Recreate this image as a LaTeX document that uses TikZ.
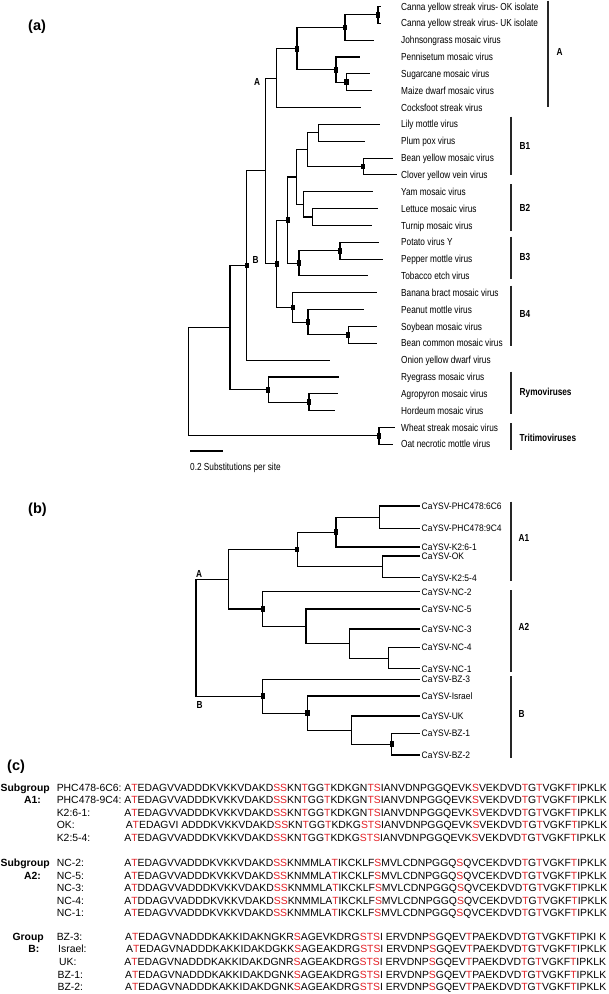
\documentclass[tikz,border=0pt]{standalone}
\usepackage{fontspec}
\setmainfont{Liberation Sans}
\newfontfamily\narrowfont{Liberation Sans}[FakeStretch=0.81]
\newfontfamily\midfont{Liberation Sans}[FakeStretch=0.9]
\definecolor{seqred}{RGB}{226,32,38}
\newcommand\rd[1]{\textcolor{seqred}{#1}}
\newcommand\seqAone{A\rd{T}EDAGVVADDDKVKKVDAKD\rd{SS}KN\rd{T}GG\rd{T}KDKGN\rd{TS}IANVDNPGGQEVK\rd{S}VEKDVD\rd{T}G\rd{T}VGKF\rd{T}IPKLK}
\newcommand\seqAtwo[1]{A\rd{T}#1DAGVVADDDKVKKVDAKD\rd{SS}KNMMLA\rd{T}IKCKLF\rd{S}MVLCDNPGGQ\rd{S}QVCEKDVD\rd{T}G\rd{T}VGKF\rd{T}IPKLK}
\newcommand\seqBgrp[3]{A\rd{T}EDAGVNADDDKAKKIDAK#1\rd{S}AGE#2KDRG\rd{STS}I ERVDNP\rd{S}GQEV\rd{T}PAEKDVD\rd{T}G\rd{T}VGKF\rd{T}IPK#3K}
\begin{document}
\begin{tikzpicture}[x=1pt,y=-1pt,
  tree/.style={line width=1.1pt},
  br/.style={line width=1.1pt, draw=black!85},
  sq/.style={fill=black, draw=none, minimum width=4.2pt, minimum height=5.8pt, inner sep=0pt},
  leafa/.style={anchor=base west, inner sep=0pt, yshift=-3.6pt, font=\narrowfont\fontsize{10.2}{12}\selectfont},
  laba/.style={anchor=base west, inner sep=0pt, yshift=-3.6pt, font=\narrowfont\bfseries\fontsize{10.2}{12}\selectfont},
  nodelab/.style={anchor=base, inner sep=0pt, yshift=-3.6pt, font=\narrowfont\bfseries\fontsize{10.2}{12}\selectfont},
  leafb/.style={anchor=base west, inner sep=0pt, yshift=-3.3pt, font=\midfont\fontsize{9.4}{11}\selectfont},
  panel/.style={anchor=base west, inner sep=0pt, yshift=-5.2pt, font=\bfseries\fontsize{14.5}{16}\selectfont},
  seq/.style={anchor=base west, inner sep=0pt, yshift=-3.7pt, font=\fontsize{10.4}{12}\selectfont},
  seqr/.style={anchor=base east, inner sep=0pt, yshift=-3.7pt, font=\bfseries\fontsize{10.4}{12}\selectfont}
]
\useasboundingbox (0,0) rectangle (609,994);

% ================= (a) =================
\node[panel] (pa) at (28,25) {(a)};
\foreach \i/\xt/\nm in {
 0/381/{Canna yellow streak virus- OK isolate},
 1/381/{Canna yellow streak virus- UK isolate},
 2/374/{Johnsongrass mosaic virus},
 3/360/{Pennisetum mosaic virus},
 4/370/{Sugarcane mosaic virus},
 5/372/{Maize dwarf mosaic virus},
 6/361/{Cocksfoot streak virus},
 7/380/{Lily mottle virus},
 8/365/{Plum pox virus},
 9/392.6/{Bean yellow mosaic virus},
 10/396.7/{Clover yellow vein virus},
 11/372.7/{Yam mosaic virus},
 12/377.7/{Lettuce mosaic virus},
 13/371.7/{Turnip mosaic virus},
 14/379.3/{Potato virus Y},
 15/383.3/{Pepper mottle virus},
 16/368.3/{Tobacco etch virus},
 17/376.7/{Banana bract mosaic virus},
 18/364.3/{Peanut mottle virus},
 19/376.7/{Soybean mosaic virus},
 20/376.7/{Bean common mosaic virus},
 21/330/{Onion yellow dwarf virus},
 22/339.3/{Ryegrass mosaic virus},
 23/338.3/{Agropyron mosaic virus},
 24/335/{Hordeum mosaic virus},
 25/395/{Wheat streak mosaic virus},
 26/393.3/{Oat necrotic mottle virus}} {
  \coordinate (t\i) at (\xt, 6.5+16.84*\i);
  \node[leafa] (L\i) at (401, 6.5+16.84*\i) {\nm};
}
\coordinate (cn) at (378,14.9);
\coordinate (cj) at (345,27.55);
\coordinate (psm) at (346.5,82.3);
\coordinate (pen) at (336,69.65);
\coordinate (a1) at (297,48.6);
\coordinate (An) at (276.6,78.05);
\coordinate (lp) at (318.4,132.8);
\coordinate (bc) at (363.3,166.5);
\coordinate (b1) at (307.4,149.65);
\coordinate (lt) at (312.3,217.0);
\coordinate (b2) at (303.3,204.35);
\coordinate (b12) at (296.7,177.0);
\coordinate (pp) at (340,250.7);
\coordinate (b3) at (299,263.3);
\coordinate (Z) at (287.7,220.15);
\coordinate (sb) at (348.3,334.9);
\coordinate (pn) at (308,322.25);
\coordinate (b4) at (292.7,307.5);
\coordinate (Y) at (276.7,263.8);
\coordinate (X) at (265.6,170.9);
\coordinate (Bn) at (246.7,265.5);
\coordinate (ah) at (309,402.25);
\coordinate (ry) at (268.3,389.6);
\coordinate (M) at (230,327.55);
\coordinate (tr) at (379,435.9);
\coordinate (root) at (188.3,381.7);
\foreach \p/\c in {cn/t0,cn/t1,cj/cn,cj/t2,psm/t4,psm/t5,pen/t3,pen/psm,a1/cj,a1/pen,
  An/a1,An/t6,lp/t7,lp/t8,bc/t9,bc/t10,b1/lp,b1/bc,lt/t12,lt/t13,b2/t11,b2/lt,b12/b1,b12/b2,
  pp/t14,pp/t15,b3/pp,b3/t16,Z/b12,Z/b3,sb/t19,sb/t20,pn/t18,pn/sb,b4/t17,b4/pn,Y/Z,Y/b4,
  X/An,X/Y,Bn/X,Bn/t21,ah/t23,ah/t24,ry/t22,ry/ah,M/Bn,M/ry,tr/t25,tr/t26,root/M,root/tr}
  \draw[tree] (\p) |- (\c);
\foreach \n in {cn,cj,psm,pen,a1,bc,pp,b3,Z,sb,pn,b4,Y,Bn,ah,ry,tr}
  \node[sq] (q\n) at (\n) {};
\node[nodelab] (labA) at (257,82) {A};
\node[nodelab] (labB) at (255.5,260) {B};
% brackets (a)
\foreach \k/\xb/\ya/\yb/\yl/\txt in {
  A/548/0.5/106.7/51.7/A, B1/511/116.7/175/145.7/B1, B2/511/184/231/207.7/B2,
  B3/511/236.7/279.3/257/B3, B4/511/285.7/346/314/B4,
  Ry/511/371.7/414.3/391.7/Rymoviruses, Tr/511/423.3/450/438.3/Tritimoviruses} {
  \coordinate (bt\k) at (\xb,\ya);
  \coordinate (bb\k) at (\xb,\yb);
  \draw[br] (bt\k) -- (bb\k);
  \node[laba] (bl\k) at (\xb+8.5,\yl) {\txt};
}
% scale bar
\coordinate (sc1) at (190,451);
\coordinate (sc2) at (223.3,451);
\draw[line width=1.2pt] (sc1) -- (sc2);
\node[leafa] (sclab) at (190,466.7) {0.2 Substitutions per site};

% ================= (b) =================
\node[panel] (pb) at (28,508) {(b)};
\foreach \i/\yy/\nm in {
 0/506/{CaYSV-PHC478:6C6}, 1/528.3/{CaYSV-PHC478:9C4}, 2/547/{CaYSV-K2:6-1},
 3/556/{CaYSV-OK}, 4/577.7/{CaYSV-K2:5-4}, 5/591.7/{CaYSV-NC-2}, 6/609/{CaYSV-NC-5},
 7/629/{CaYSV-NC-3}, 8/647.3/{CaYSV-NC-4}, 9/668.8/{CaYSV-NC-1}, 10/679.3/{CaYSV-BZ-3},
 11/696/{CaYSV-Israel}, 12/716/{CaYSV-UK}, 13/733.3/{CaYSV-BZ-1}, 14/755/{CaYSV-BZ-2}} {
  \coordinate (s\i) at (420,\yy);
  \node[leafb] (S\i) at (421.5,\yy) {\nm};
}
\coordinate (m1) at (379.3,517.15);
\coordinate (m2) at (336,532.1);
\coordinate (m3) at (382.3,566.85);
\coordinate (m4) at (297.3,549.5);
\coordinate (m8) at (388.7,658.05);
\coordinate (m7) at (349.3,643.5);
\coordinate (m6) at (306,626.25);
\coordinate (m5) at (262.7,608.95);
\coordinate (mA) at (228.3,579.2);
\coordinate (m11) at (391.8,744.15);
\coordinate (m10) at (351.6,730.1);
\coordinate (m9) at (307.4,713.05);
\coordinate (mB) at (262.7,696.2);
\coordinate (mr) at (196,637.7);
\foreach \p/\c in {m1/s0,m1/s1,m2/m1,m2/s2,m3/s3,m3/s4,m4/m2,m4/m3,m8/s8,m8/s9,m7/s7,m7/m8,
  m6/s6,m6/m7,m5/s5,m5/m6,mA/m4,mA/m5,m11/s13,m11/s14,m10/s12,m10/m11,m9/s11,m9/m10,
  mB/s10,mB/m9,mr/mA,mr/mB}
  \draw[tree] (\p) |- (\c);
\foreach \n in {m2,m4,m5,m9,m11,mB}
  \node[sq] (q\n) at (\n) {};
\node[nodelab] (labbA) at (199,573.5) {A};
\node[nodelab] (labbB) at (199.5,705) {B};
\foreach \k/\ya/\yb/\yl/\txt in {A1/501.7/581/538.3/A1, A2/590/671.7/626.7/A2, BB/676/758.3/714/B} {
  \coordinate (ct\k) at (511,\ya);
  \coordinate (cb\k) at (511,\yb);
  \draw[br] (ct\k) -- (cb\k);
  \node[laba] (cl\k) at (518.5,\yl) {\txt};
}

% ================= (c) =================
\node[panel] (pc) at (7,765) {(c)};
% group A1
\node[seqr] (gA1a) at (50,787.5) {Subgroup};
\node[seqr] (gA1b) at (41,800) {A1:};
\node[seq] (nA1) at (56.6,787.5) {PHC478-6C6:};
\node[seq] (nA2) at (56.6,800) {PHC478-9C4:};
\node[seq] (nA3) at (56.6,812.5) {K2:6-1:};
\node[seq] (nA4) at (56.6,825) {OK:};
\node[seq] (nA5) at (56.6,837.5) {K2:5-4:};
\node[seq] (qA1) at (124.2,787.5) {\seqAone};
\node[seq] (qA2) at (124.2,800) {\seqAone};
\node[seq] (qA3) at (124.2,812.5) {\seqAone};
\node[seq] (qA4) at (125.6,825) {A\rd{T}EDAGVI ADDDKVKKVDAKD\rd{SS}KN\rd{T}GG\rd{T}KDKG\rd{STS}IANVDNPGGQEVK\rd{S}VEKDVD\rd{T}G\rd{T}VGKF\rd{T}IPKLK};
\node[seq] (qA5) at (124.2,837.5) {A\rd{T}EDAGVVADDDKVKKVDAKD\rd{SS}KN\rd{T}GG\rd{T}KDKG\rd{STS}IANVDNPGGQEVK\rd{S}VEKDVD\rd{T}G\rd{T}VGKF\rd{T}IPKLK};
% group A2
\node[seqr] (gA2a) at (50,862.8) {Subgroup};
\node[seqr] (gA2b) at (41,875.3) {A2:};
\node[seq] (nB1) at (56.6,862.8) {NC-2:};
\node[seq] (nB2) at (56.6,875.3) {NC-5:};
\node[seq] (nB3) at (56.6,887.8) {NC-3:};
\node[seq] (nB4) at (56.6,900.3) {NC-4:};
\node[seq] (nB5) at (56.6,912.8) {NC-1:};
\node[seq] (qB1) at (124.2,862.8) {\seqAtwo{E}};
\node[seq] (qB2) at (124.2,875.3) {\seqAtwo{E}};
\node[seq] (qB3) at (124.2,887.8) {\seqAtwo{D}};
\node[seq] (qB4) at (124.2,900.3) {\seqAtwo{D}};
\node[seq] (qB5) at (124.2,912.8) {\seqAtwo{E}};
% group B
\node[seqr] (gBa) at (44,936.3) {Group};
\node[seqr] (gBb) at (39.5,949) {B:};
\node[seq] (nC1) at (56.6,936.3) {BZ-3:};
\node[seq] (nC2) at (58,949) {Israel:};
\node[seq] (nC3) at (59,961.7) {UK:};
\node[seq] (nC4) at (57.5,974.4) {BZ-1:};
\node[seq] (nC5) at (57.5,987.1) {BZ-2:};
\node[seq] (qC1) at (125,936.3) {\seqBgrp{NGKR}{V}{I }};
\node[seq] (qC2) at (126,949) {\seqBgrp{DGKK}{A}{L}};
\node[seq] (qC3) at (124.2,961.7) {\seqBgrp{DGNR}{A}{L}};
\node[seq] (qC4) at (125,974.4) {\seqBgrp{DGNK}{A}{L}};
\node[seq] (qC5) at (125,987.1) {\seqBgrp{DGNK}{A}{L}};
\end{tikzpicture}
\end{document}
